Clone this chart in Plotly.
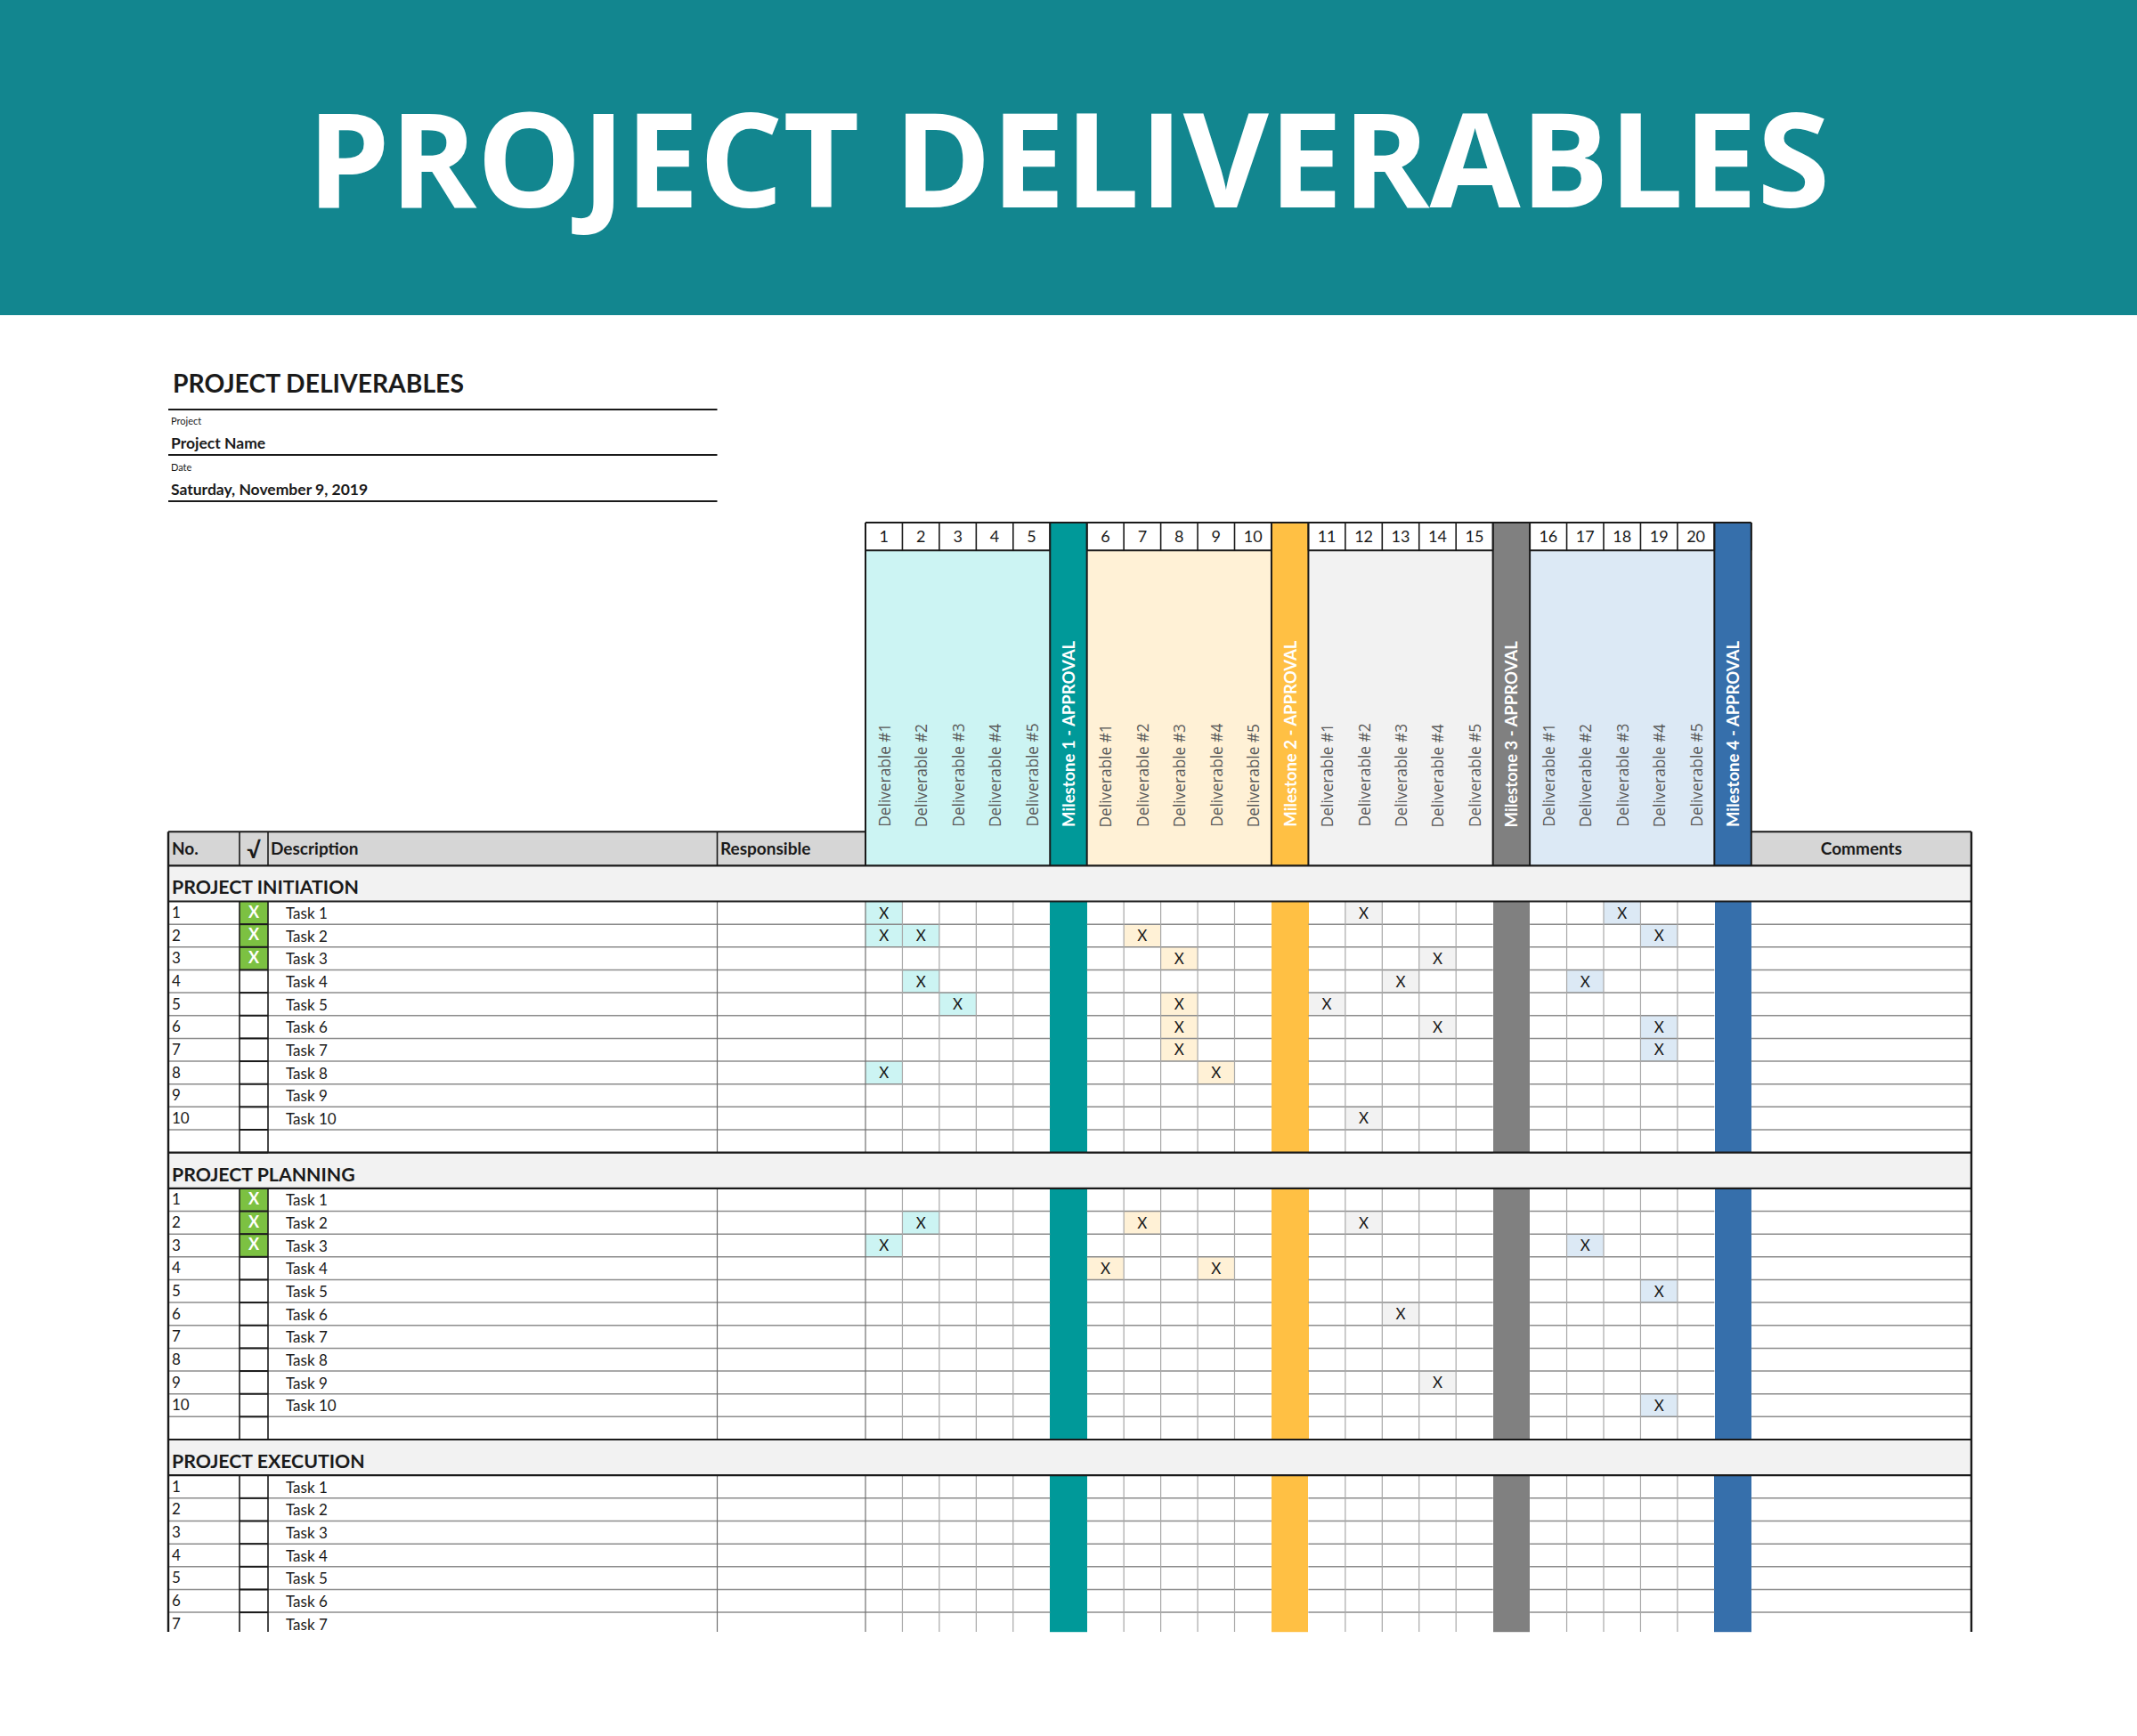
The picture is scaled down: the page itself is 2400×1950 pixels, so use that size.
import plotly.graph_objects as go

# --- data ---
deliverable_labels = ["Deliverable #1", "Deliverable #2", "Deliverable #3", "Deliverable #4", "Deliverable #5"]
milestone_labels = ["Milestone 1 - APPROVAL", "Milestone 2 - APPROVAL", "Milestone 3 - APPROVAL", "Milestone 4 - APPROVAL"]
section_names = ["PROJECT INITIATION", "PROJECT PLANNING", "PROJECT EXECUTION"]
task_names = ["Task 1", "Task 2", "Task 3", "Task 4", "Task 5", "Task 6", "Task 7", "Task 8", "Task 9", "Task 10"]
section_rows = [11, 11, 7]
section_done = [3, 3, 0]

# deliverable numbers ticked per task
initiation_marks = [[1, 12, 18], [1, 2, 7, 19], [8, 14], [2, 13, 17], [3, 8, 11], [8, 14, 19], [8, 19], [1, 9], [], [12], []]
planning_marks = [[], [2, 7, 12], [1, 17], [6, 9], [19], [13], [], [], [14], [19], []]
execution_marks = [[], [], [], [], [], [], []]

# --- sheet geometry, in page pixels ---
LEFT, NO_R, CHECK_R, DESC_R, RESP_R = 189, 269, 301, 805.5, 972
COL_W = 41.45
RIGHT = 2214
COLS_TOP, NUM_BOTTOM, HEAD_TOP, HEAD_BOTTOM = 587, 618.3, 934.3, 972.3
BAND_H, ROW_H = 40.2, 25.65
CLIP_Y = 1833

BLACK = "#1a1a1a"
GRID = "#8c8c8c"
VGRID = "#a8a8a8"
panel_colors = ["#ccf4f3", "#fff1d6", "#f2f2f2", "#dce9f5"]
milestone_colors = ["#009999", "#ffc044", "#808080", "#366fab"]
GREEN = "#7cc142"
BODY = "Lato"
ROTATED = "Open Sans"

x_edges = [RESP_R + COL_W * i for i in range(25)]
x_mid = [(a + b) / 2 for a, b in zip(x_edges, x_edges[1:])]
milestone_cols = [5, 11, 17, 23]
deliverable_cols = [c for c in range(24) if c not in milestone_cols]

# row lines stop at the milestone columns, which are solid in the sheet
line_spans = [(LEFT, x_edges[5]), (x_edges[6], x_edges[11]), (x_edges[12], x_edges[17]),
              (x_edges[18], x_edges[23]), (x_edges[24], RIGHT)]
inner_edges = [x_edges[c] for c in range(1, 24) if c not in milestone_cols and c - 1 not in milestone_cols]


def stepped(colors):
    scale = []
    for i, c in enumerate(colors):
        scale += [[i / len(colors), c], [(i + 1) / len(colors), c]]
    return scale


fig = go.Figure()
shapes = []
notes = []


def rect(x0, y0, x1, y1, fill, line=None, width=0):
    shapes.append(dict(type="rect", x0=x0, y0=y0, x1=x1, y1=y1, fillcolor=fill, layer="below",
                       line=dict(color=line or fill, width=width)))


def lines(segments, color, width):
    xs, ys = [], []
    for x0, y0, x1, y1 in segments:
        xs += [x0, x1, None]
        ys += [y0, y1, None]
    fig.add_trace(go.Scatter(x=xs, y=ys, mode="lines", line=dict(color=color, width=width),
                             hoverinfo="skip", showlegend=False))


def label(x, y, text, size, color="#1a1a1a", bold=False, pos="middle right", font=BODY):
    fig.add_trace(go.Scatter(x=[x], y=[y], mode="text", text=["<b>%s</b>" % text if bold else text],
                             textposition=pos, textfont=dict(size=size, color=color, family=font),
                             hoverinfo="skip", showlegend=False))


# banner
rect(0, 0, 2400, 354, "#12868f")

# header band
rect(LEFT, HEAD_TOP, RESP_R, HEAD_BOTTOM, "#d6d6d6")
rect(x_edges[-1], HEAD_TOP, RIGHT, HEAD_BOTTOM, "#d6d6d6")

# section bands and row positions
tops = []
y = HEAD_BOTTOM
for n in section_rows:
    rect(LEFT, y, RIGHT, y + BAND_H, "#f2f2f2")
    tops.append(y)
    y += BAND_H + n * ROW_H

# deliverable panels and milestone headers
for g in range(4):
    x0 = x_edges[g * 6]
    rect(x0, NUM_BOTTOM, x_edges[g * 6 + 5], HEAD_BOTTOM, panel_colors[g])
    rect(x_edges[g * 6 + 5], COLS_TOP, x_edges[g * 6 + 6], HEAD_BOTTOM, milestone_colors[g])

all_marks = [initiation_marks, planning_marks, execution_marks]
for s, marks in enumerate(all_marks):
    n = section_rows[s]
    row_top = tops[s] + BAND_H
    y_edges = [min(row_top + ROW_H * i, CLIP_Y) for i in range(n + 1)]
    y_mid = [row_top + ROW_H * (i + 0.5) for i in range(n)]

    # ticked cells
    z = [[None] * 24 for _ in range(n)]
    for r, ticked in enumerate(marks):
        for d in ticked:
            col = deliverable_cols[d - 1]
            z[r][col] = col // 6
    fig.add_trace(go.Heatmap(x=x_edges, y=y_edges, z=z, zmin=-0.5, zmax=3.5, showscale=False,
                             colorscale=stepped(panel_colors), hoverinfo="skip"))

    # check column
    done = [[1 if r < section_done[s] else None] for r in range(n)]
    fig.add_trace(go.Heatmap(x=[NO_R, CHECK_R], y=y_edges, z=done, zmin=0, zmax=1, showscale=False,
                             colorscale=[[0, GREEN], [1, GREEN]], hoverinfo="skip"))

    # milestone columns
    zm = [[milestone_cols.index(c) if c in milestone_cols else None for c in range(24)] for _ in range(n)]
    fig.add_trace(go.Heatmap(x=x_edges, y=y_edges, z=zm, zmin=-0.5, zmax=3.5, showscale=False,
                             colorscale=stepped(milestone_colors), hoverinfo="skip"))

    # grid
    lines([(a, yy, b, yy) for yy in y_edges[1:] if yy < CLIP_Y for a, b in line_spans], GRID, 1.5)
    lines([(x, row_top, x, y_edges[-1]) for x in inner_edges], VGRID, 1.2)
    lines([(x, row_top, x, y_edges[-1]) for x in [DESC_R, RESP_R]], "#707070", 1.2)

    # check column frame
    lines([(NO_R, yy, CHECK_R, yy) for yy in y_edges[1:] if yy < CLIP_Y], BLACK, 2)
    lines([(x, row_top, x, y_edges[-1]) for x in [NO_R, CHECK_R]], BLACK, 1.6)

    # section heading
    label(193, tops[s] + BAND_H / 2 + 6.5, section_names[s], 21.3, bold=True)
    lines([(LEFT, tops[s], RIGHT, tops[s]), (LEFT, row_top, RIGHT, row_top)], BLACK, 2.2)

    # row text
    for r in range(n):
        if r < len(task_names):
            label(193, y_mid[r] + 1.5, str(r + 1), 17)
            label(321, y_mid[r] + 2.5, task_names[r], 17)
        if r < section_done[s]:
            label((NO_R + CHECK_R) / 2, y_mid[r] + 1, "X", 18, color="white", bold=True, pos="middle center")
        for d in marks[r]:
            label(x_mid[deliverable_cols[d - 1]], y_mid[r] + 2, "X", 17, pos="middle center")

# outer frame of the table
lines([(LEFT, HEAD_TOP, LEFT, CLIP_Y), (RIGHT, HEAD_TOP, RIGHT, CLIP_Y)], BLACK, 2.4)
lines([(LEFT, HEAD_TOP, RESP_R, HEAD_TOP), (x_edges[-1], HEAD_TOP, RIGHT, HEAD_TOP)], BLACK, 2)
lines([(x, HEAD_TOP, x, HEAD_BOTTOM) for x in [NO_R, CHECK_R, DESC_R]], BLACK, 1.6)

# column header frame
lines([(x_edges[0], COLS_TOP, x_edges[-1], COLS_TOP),
       (x_edges[0], NUM_BOTTOM, x_edges[5], NUM_BOTTOM), (x_edges[6], NUM_BOTTOM, x_edges[11], NUM_BOTTOM),
       (x_edges[12], NUM_BOTTOM, x_edges[17], NUM_BOTTOM), (x_edges[18], NUM_BOTTOM, x_edges[23], NUM_BOTTOM)], BLACK, 2)
lines([(x, COLS_TOP, x, NUM_BOTTOM) for x in x_edges], BLACK, 1.6)
lines([(x_edges[c], COLS_TOP, x_edges[c], HEAD_BOTTOM) for c in [0, 5, 6, 11, 12, 17, 18, 23, 24]], BLACK, 2)

# column numbers and rotated labels
for n, col in enumerate(deliverable_cols):
    label(x_mid[col], (COLS_TOP + NUM_BOTTOM) / 2 + 2, str(n + 1), 18, pos="middle center")
    notes.append(dict(x=x_mid[col], y=931, text=deliverable_labels[n % 5], textangle=-90, showarrow=False,
                      xanchor="center", yanchor="bottom", font=dict(size=17.3, color="#595959", family=ROTATED)))
for m, col in enumerate(milestone_cols):
    notes.append(dict(x=x_mid[col], y=931, text="<b>%s</b>" % milestone_labels[m], textangle=-90, showarrow=False,
                      xanchor="center", yanchor="bottom", font=dict(size=18.5, color="white", family=BODY)))

# header captions
label(193, 955, "No.", 19, bold=True)
label((NO_R + CHECK_R) / 2, 958, "√", 25, bold=True, pos="middle center")
label(304, 955, "Description", 19, bold=True)
label(809, 955, "Responsible", 19, bold=True)
label((x_edges[-1] + RIGHT) / 2, 955, "Comments", 19, bold=True, pos="middle center")

# title block
label(1200, 196, "PROJECT DELIVERABLES", 148, color="white", bold=True, pos="middle center", font="Open Sans")
label(194, 434, "PROJECT DELIVERABLES", 28.3, bold=True)
label(192, 474, "Project", 11)
label(192, 499.5, "Project Name", 17.5, bold=True)
label(192, 526, "Date", 11)
label(192, 551.5, "Saturday, November 9, 2019", 17.5, bold=True)
lines([(189, yy, DESC_R, yy) for yy in [460, 511, 563]], BLACK, 2)

fig.update_layout(
    width=2400, height=1950, margin=dict(l=0, r=0, t=0, b=0),
    paper_bgcolor="white", plot_bgcolor="white", showlegend=False,
    shapes=shapes, annotations=notes,
    xaxis=dict(range=[0, 2400], visible=False, fixedrange=True),
    yaxis=dict(range=[1950, 0], visible=False, fixedrange=True),
)

fig.write_html("out.html", config=dict(displayModeBar=False), post_script="document.body.style.margin='0'")
